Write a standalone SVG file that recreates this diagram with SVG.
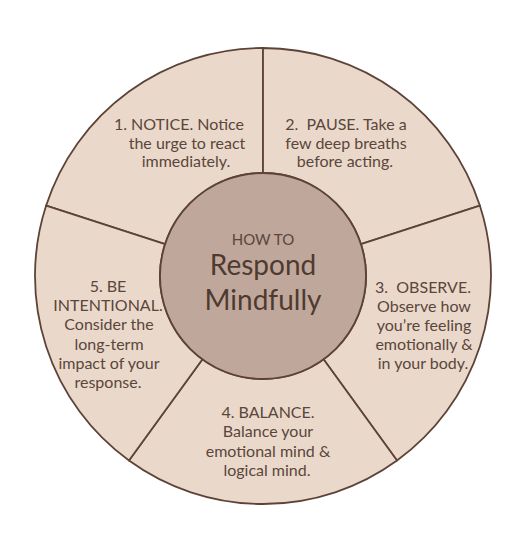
<svg xmlns="http://www.w3.org/2000/svg" width="526" height="543" viewBox="0 0 526 543">
<style>
.sec{fill:#ead9cb;stroke:#5d4337;stroke-width:1.8;stroke-linejoin:round}
.hub{fill:#bfa89b;stroke:#5d4337;stroke-width:1.8}
.t{font-family:Lato,"Open Sans","Liberation Sans",sans-serif;font-size:16px;fill:#5a463b;text-anchor:middle}
.c1{font-family:Lato,"Open Sans","Liberation Sans",sans-serif;font-size:15px;fill:#5a463b;text-anchor:middle}
.c2{font-family:Lato,"Open Sans","Liberation Sans",sans-serif;font-size:28px;fill:#4f3a2f;text-anchor:middle}
</style>
<rect width="526" height="543" fill="#ffffff"/>
<g id="section1">
<path class="sec" d="M46.16,205.54 A228,228 0 0 1 263,48 L263,173 A103,103 0 0 0 165.04,244.17 Z"/>
<text class="t" x="179" y="130">1. NOTICE. Notice</text>
<text class="t" x="187" y="149">the urge to react</text>
<text class="t" x="186" y="167">immediately.</text>
</g>
<g id="section2">
<path class="sec" d="M263,48 A228,228 0 0 1 479.84,205.54 L360.96,244.17 A103,103 0 0 0 263,173 Z"/>
<text class="t" x="346" y="130" xml:space="preserve">2.  PAUSE. Take a</text>
<text class="t" x="346" y="149">few deep breaths</text>
<text class="t" x="345" y="167">before acting.</text>
</g>
<g id="section3">
<path class="sec" d="M479.84,205.54 A228,228 0 0 1 397.02,460.46 L323.54,359.33 A103,103 0 0 0 360.96,244.17 Z"/>
<text class="t" x="423" y="293" xml:space="preserve">3.  OBSERVE.</text>
<text class="t" x="424" y="312">Observe how</text>
<text class="t" x="424" y="331">you’re feeling</text>
<text class="t" x="424" y="350">emotionally &amp;</text>
<text class="t" x="423" y="369">in your body.</text>
</g>
<g id="section4">
<path class="sec" d="M397.02,460.46 A228,228 0 0 1 128.98,460.46 L202.46,359.33 A103,103 0 0 0 323.54,359.33 Z"/>
<text class="t" x="268" y="418">4. BALANCE.</text>
<text class="t" x="268" y="437">Balance your</text>
<text class="t" x="268" y="457">emotional mind &amp;</text>
<text class="t" x="267" y="476">logical mind.</text>
</g>
<g id="section5">
<path class="sec" d="M128.98,460.46 A228,228 0 0 1 46.16,205.54 L165.04,244.17 A103,103 0 0 0 202.46,359.33 Z"/>
<text class="t" x="108" y="292">5. BE</text>
<text class="t" x="108" y="311">INTENTIONAL.</text>
<text class="t" x="109" y="330">Consider the</text>
<text class="t" x="109" y="350">long-term</text>
<text class="t" x="109" y="369">impact of your</text>
<text class="t" x="108" y="388">response.</text>
</g>
<g id="center">
<circle class="hub" cx="263" cy="276" r="103"/>
<text class="c1" x="263" y="245">HOW TO</text>
<text class="c2" x="263" y="275">Respond</text>
<text class="c2" x="263" y="310">Mindfully</text>
</g>
<g id="connectors"></g>
</svg>
